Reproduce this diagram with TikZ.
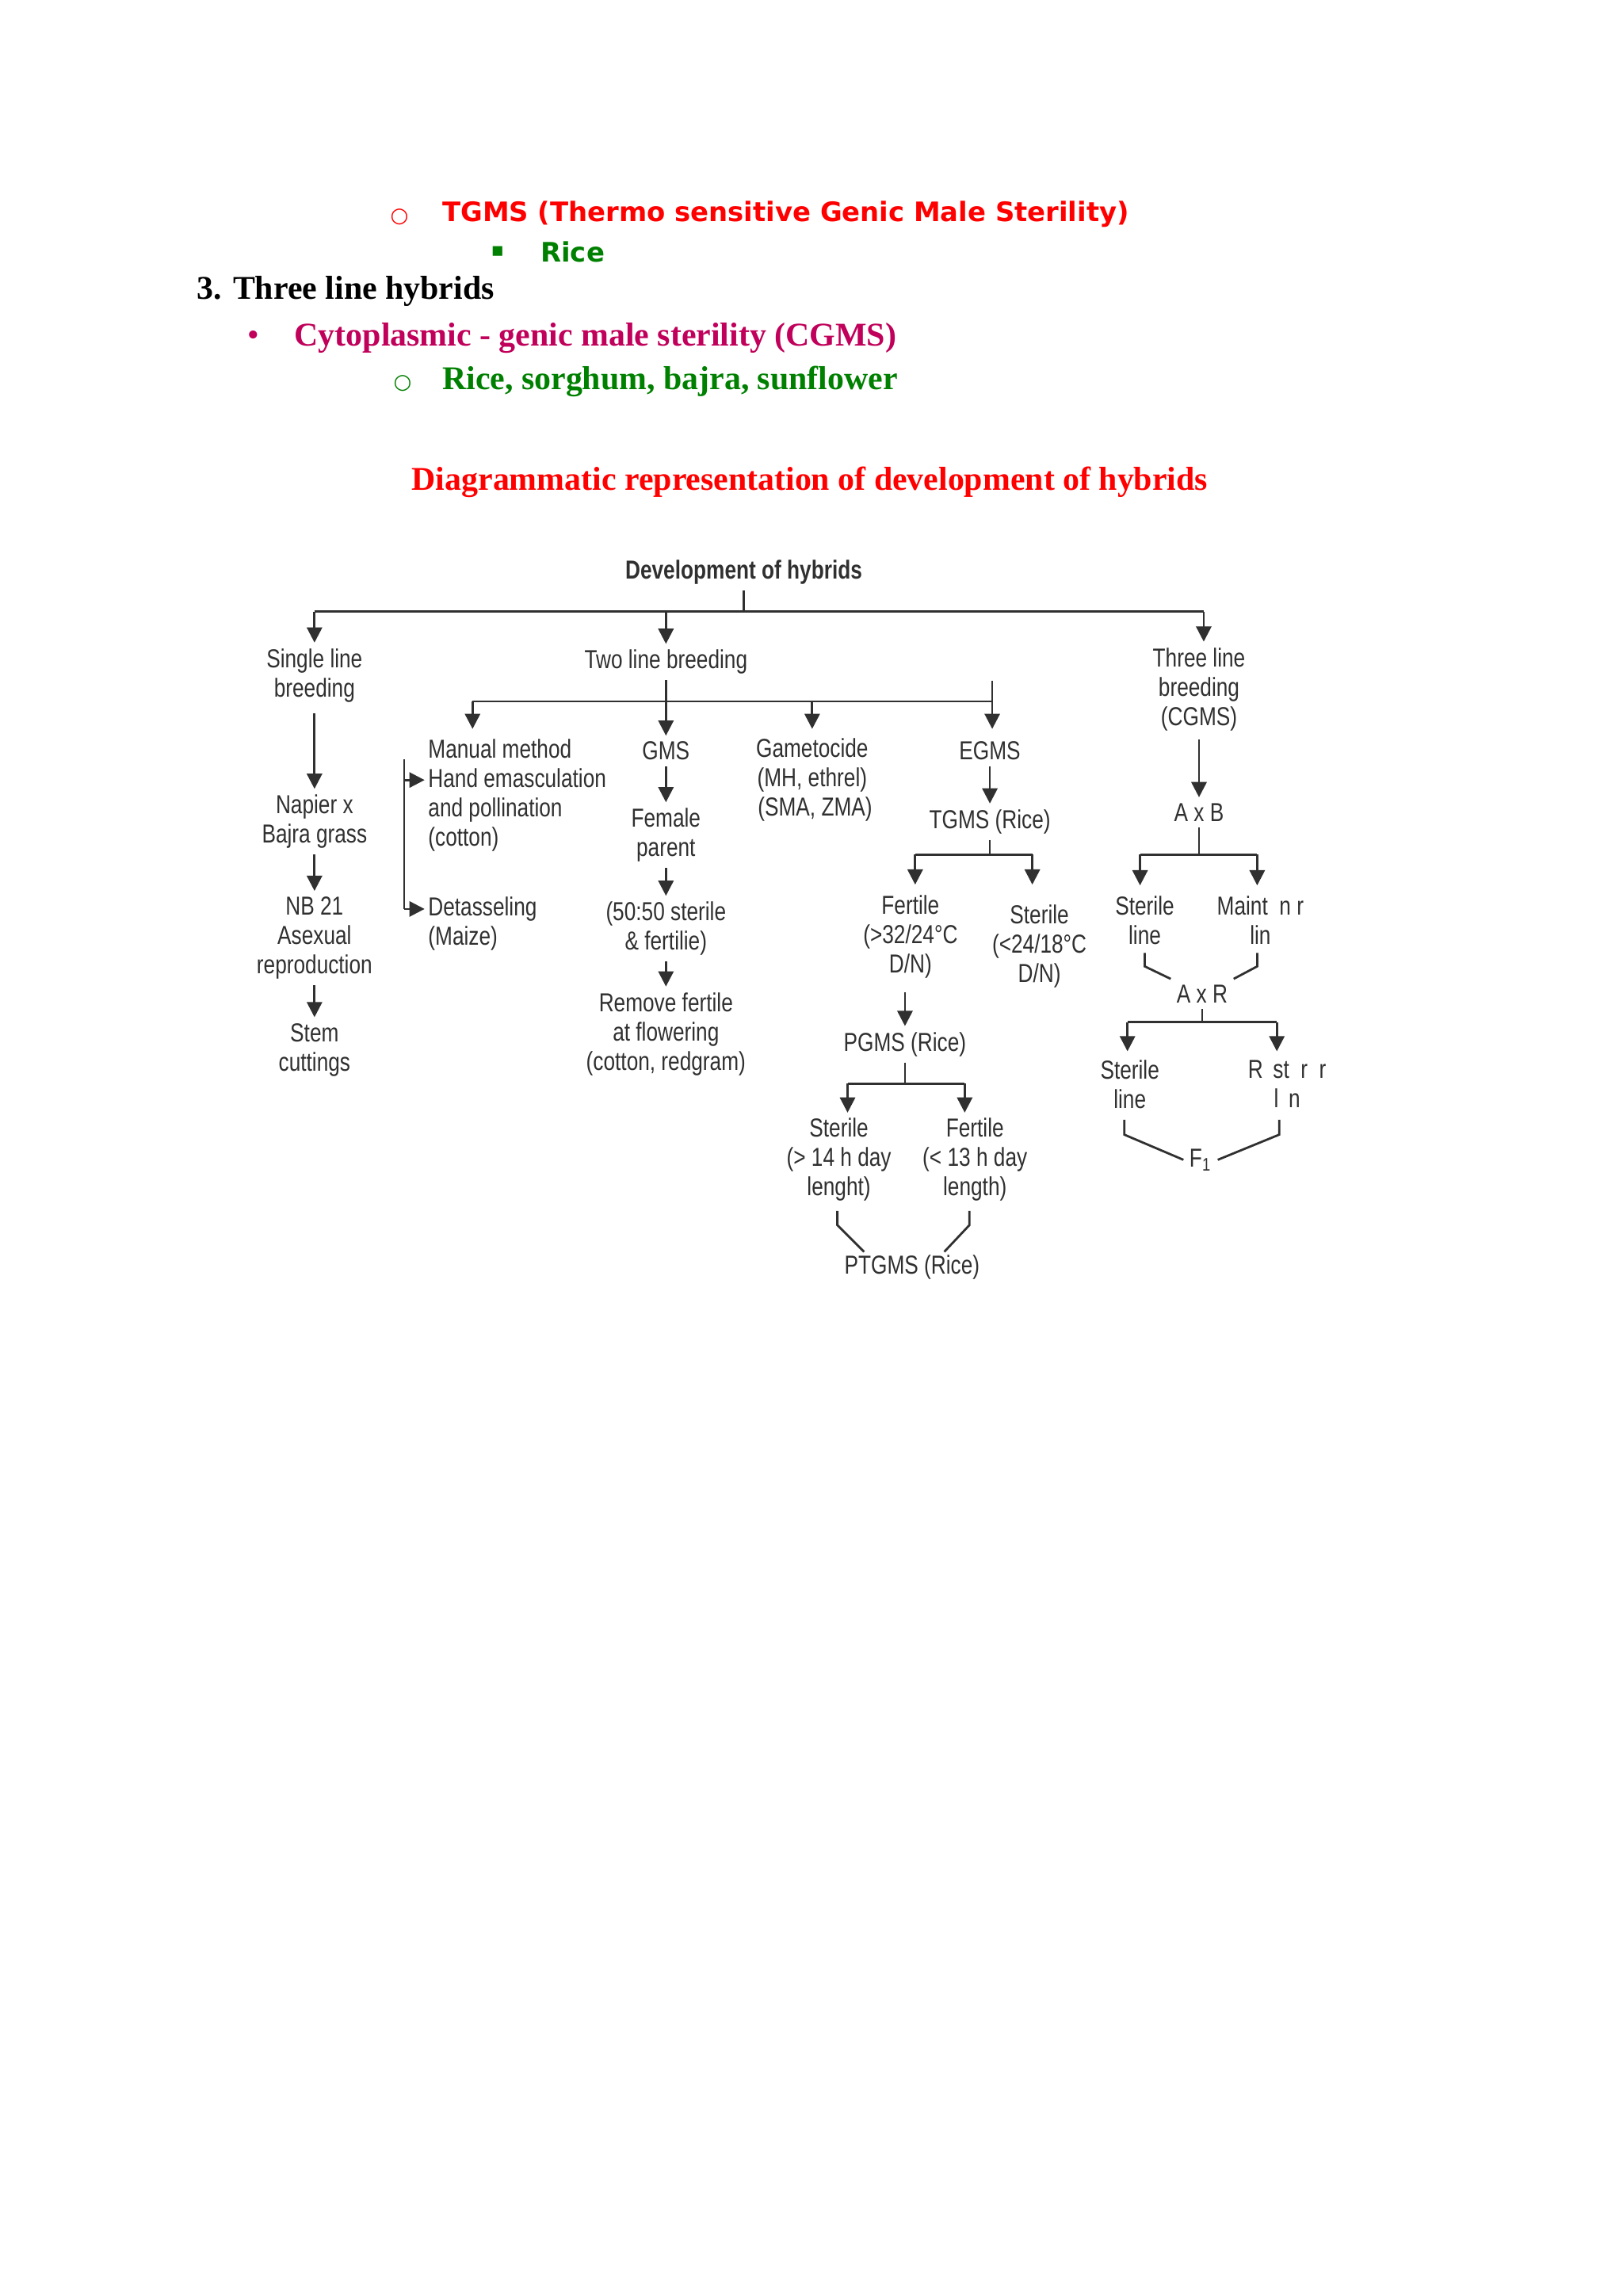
\documentclass[tikz,border=0pt]{standalone}
\usepackage{fontspec}
\setmainfont{Liberation Serif}
\newfontfamily\vfont{DejaVu Sans}
\newfontfamily\dfont[FakeStretch=0.8]{Liberation Sans}
\usetikzlibrary{arrows.meta}
\definecolor{hred}{HTML}{FF0000}
\definecolor{hgreen}{HTML}{008000}
\definecolor{hmag}{HTML}{C0005A}
\definecolor{ink}{HTML}{303030}
\tikzset{
 lbl/.style={font=\dfont\fontsize{9.4}{10.6}\selectfont, align=center, inner sep=2pt, text=ink},
 lbll/.style={lbl, align=left, anchor=west, inner sep=0pt},
 ar/.style={draw=ink, line width=0.8pt, -{Triangle[width=5.5pt,length=5.5pt]}},
 ln/.style={draw=ink, line width=0.8pt},
}
\begin{document}
\begin{tikzpicture}[x=0.01cm,y=-0.01cm]
\useasboundingbox[fill=white] (0,0) rectangle (2064,2920);
% header text
\node[font=\vfont\fontsize{7.5}{9}\selectfont, text=hred] (b1) at (508,276) {○};
\node[font=\vfont\bfseries\fontsize{9.7}{12}\selectfont, text=hred, anchor=west, inner sep=0] (t1) at (562,272) {TGMS (Thermo sensitive Genic Male Sterility)};
\node[font=\vfont\fontsize{7}{8}\selectfont, text=hgreen] (b2) at (633,320) {▪};
\node[font=\vfont\bfseries\fontsize{9.7}{12}\selectfont, text=hgreen, anchor=west, inner sep=0] (t2) at (687,320) {Rice};
\node[font=\bfseries\fontsize{12}{14}\selectfont, anchor=west, inner sep=0] (t3) at (250,370) {3. Three line hybrids};
\node[font=\vfont\fontsize{10}{12}\selectfont, text=hmag] (b3) at (322,430) {•};
\node[font=\bfseries\fontsize{12}{14}\selectfont, text=hmag, anchor=west, inner sep=0] (t4) at (374,430) {Cytoplasmic - genic male sterility (CGMS)};
\node[font=\vfont\fontsize{7.5}{9}\selectfont, text=hgreen] (b4) at (512,488) {○};
\node[font=\bfseries\fontsize{12}{14}\selectfont, text=hgreen, anchor=west, inner sep=0] (t5) at (562,485) {Rice, sorghum, bajra, sunflower};
\node[font=\bfseries\fontsize{12}{14}\selectfont, text=hred, inner sep=0] (title) at (1030,613) {Diagrammatic representation of development of hybrids};

% diagram nodes
\node[lbl, font=\dfont\bfseries\fontsize{9.4}{10.6}\selectfont] (dev) at (946,728) {Development of hybrids};
\node[lbl] (single) at (400,859) {Single line\\breeding};
\node[lbl] (two) at (847,842) {Two line breeding};
\node[lbl] (three) at (1525,877) {Three line\\breeding\\(CGMS)};
\node[lbl] (napier) at (400,1045) {Napier x\\Bajra grass};
\node[lbl] (nb) at (400,1193) {NB 21\\Asexual\\reproduction};
\node[lbl] (stem) at (400,1335) {Stem\\cuttings};
\node[lbll] (manualt) at (544,1011) {Manual method\\Hand emasculation\\and pollination\\(cotton)};
\node[lbll] (detas) at (544,1175) {Detasseling\\(Maize)};
\node[lbl] (gms) at (847,955) {GMS};
\node[lbl] (female) at (847,1062) {Female\\parent};
\node[lbl] (fifty) at (847,1181) {(50:50 sterile\\\& fertilie)};
\node[lbl] (remove) at (847,1315) {Remove fertile\\at flowering\\(cotton, redgram)};
\node[lbl] (game) at (1033,992) {Gametocide\\(MH, ethrel)\\\ (SMA, ZMA)};
\node[lbl] (egms) at (1259,955) {EGMS};
\node[lbl] (tgms) at (1259,1045) {TGMS (Rice)};
\node[lbl] (fert) at (1158,1191) {Fertile\\(>32/24°C\\D/N)};
\node[lbl] (ster) at (1322,1203) {Sterile\\(<24/18°C\\D/N)};
\node[lbl] (pgms) at (1151,1328) {PGMS (Rice)};
\node[lbl] (ster2) at (1067,1475) {Sterile\\(> 14 h day\\lenght)};
\node[lbl] (fert2) at (1240,1475) {Fertile\\(< 13 h day\\length)};
\node[lbl] (ptgms) at (1160,1612) {PTGMS (Rice)};
\node[lbl] (axb) at (1525,1033) {A x B};
\node[lbl] (sl1) at (1456,1170) {Sterile\\line};
\node[lbl] (main) at (1603,1170) {Maint\ \ n\ r\\lin};
\node[lbl] (axr) at (1529,1264) {A x R};
\node[lbl] (sl2) at (1437,1379) {Sterile\\line};
\node[lbl] (rest) at (1637,1379) {R\,\ st\ \ r\ \ r\\l\ \,n};
\node[lbl] (f1) at (1527,1475) {F\textsubscript{1}};

% level 1
\coordinate (d0) at (946,778);
\draw[ln] (dev.south) -- (d0);
\draw[ln] (400,778) -- (1531,778);
\draw[ar] (400,778) -- (single.north);
\draw[ar] (847,778) -- (two.north);
\draw[ar] (1531,778) -- (1531,816);
% single line
\draw[ar] (400,907) -- (napier.north);
\draw[ar] (napier.south) -- (nb.north);
\draw[ar] (nb.south) -- (stem.north);
% two line
\coordinate (t0) at (847,892);
\draw[ln] (two.south) -- (t0);
\draw[ln] (601,892) -- (1262,892);
\draw[ln] (1262,866) -- (1262,892);
\draw[ar] (601,892) -- (601,927);
\draw[ar] (847,892) -- (gms.north);
\draw[ar] (1033,892) -- (1033,927);
\draw[ar] (1262,892) -- (1262,927);
% bracket
\draw[ln] (514,966) -- (514,1156);
\draw[ar] (514,992) -- (540,992);
\draw[ar] (514,1156) -- (540,1156);
% GMS chain
\draw[ar] (gms.south) -- (female.north);
\draw[ar] (female.south) -- (fifty.north);
\draw[ar] (fifty.south) -- (remove.north);
% EGMS
\draw[ar] (egms.south) -- (tgms.north);
\draw[ln] (tgms.south) -- (1259,1087);
\draw[ln] (1164,1087) -- (1313,1087);
\draw[ar] (1164,1087) -- (1164,1125);
\draw[ar] (1313,1087) -- (1313,1125);
\draw[ar] (1151,1262) -- (pgms.north);
\draw[ln] (pgms.south) -- (1151,1378);
\draw[ln] (1078,1378) -- (1227,1378);
\draw[ar] (1078,1378) -- (1078,1415);
\draw[ar] (1227,1378) -- (1227,1415);
\draw[ln] (1065,1540) -- (1065,1558) -- (1099,1592);
\draw[ln] (1233,1540) -- (1233,1558) -- (1201,1592);
% three line
\draw[ar] (1525,940) -- (axb.north);
\draw[ln] (axb.south) -- (1525,1087);
\draw[ln] (1450,1087) -- (1599,1087);
\draw[ar] (1450,1087) -- (1450,1126);
\draw[ar] (1599,1087) -- (1599,1126);
\draw[ln] (1456,1212) -- (1456,1229) -- (axr.north west);
\draw[ln] (1599,1212) -- (1599,1229) -- (axr.north east);
\draw[ln] (axr.south) -- (1529,1300);
\draw[ln] (1434,1300) -- (1624,1300);
\draw[ar] (1434,1300) -- (1434,1337);
\draw[ar] (1624,1300) -- (1624,1337);
\draw[ln] (1430,1424) -- (1430,1443) -- (f1.west);
\draw[ln] (1627,1424) -- (1627,1443) -- (f1.east);
\end{tikzpicture}
\end{document}
